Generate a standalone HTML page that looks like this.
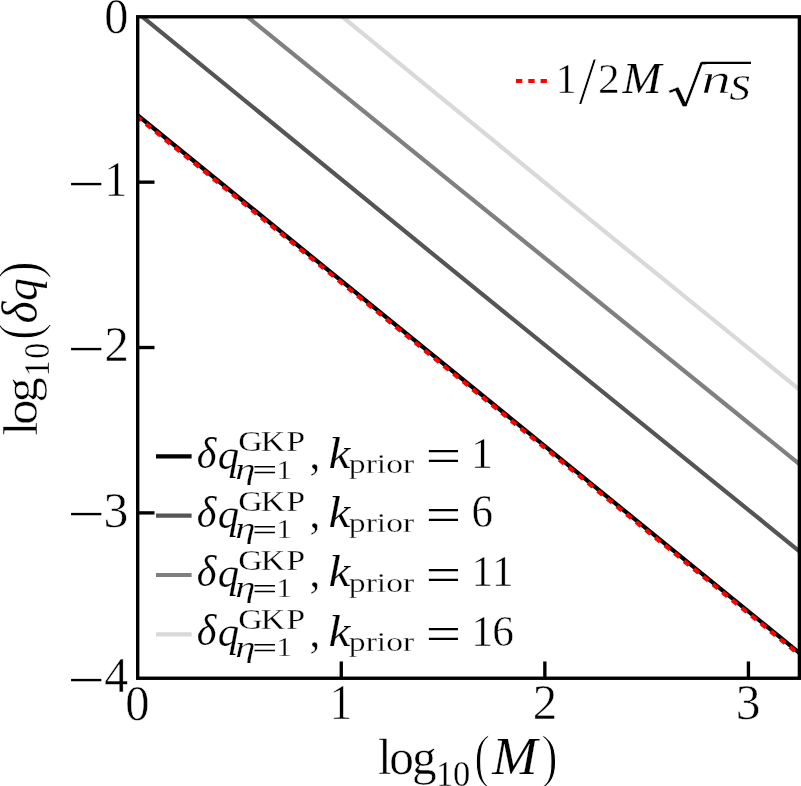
<!DOCTYPE html>
<html><head><meta charset="utf-8"><title>plot</title>
<style>
html,body{margin:0;padding:0;background:#fff;overflow:hidden}
svg{display:block}
text{font-family:"Liberation Serif",serif;font-size:100px}
text.m{font-family:"DejaVu Math TeX Gyre","Liberation Serif",serif}
</style></head><body>
<svg width="801" height="786" viewBox="0 0 801 786">
<rect x="0" y="0" width="801" height="786" fill="#fff"/>
<clipPath id="c"><rect x="137.7" y="16.78" width="661.7" height="661.47"/></clipPath>
<g clip-path="url(#c)" fill="none">
<polyline points="117.34,98.80 829.84,677.60" stroke="#000000" stroke-width="4.2" stroke-linejoin="round"/>
<polyline points="117.34,-3.56 137.70,12.98 463.41,278.97 797.27,549.52 829.84,575.98" stroke="#555555" stroke-width="4.2" stroke-linejoin="round"/>
<polyline points="198.77,-22.74 270.02,35.14 463.41,192.07 797.27,462.42 829.84,488.88" stroke="#808080" stroke-width="4.2" stroke-linejoin="round"/>
<polyline points="300.56,-17.12 341.27,15.95 585.55,215.92 797.27,387.87 829.84,414.33" stroke="#d9d9d9" stroke-width="4.2" stroke-linejoin="round"/>
<line x1="137.70" y1="117.16" x2="829.84" y2="679.42" stroke="#ff0000" stroke-width="4.2" stroke-dasharray="6.35 6.03" stroke-dashoffset="1.7"/>
</g>
<line x1="341.27" y1="678.25" x2="341.27" y2="661.45" stroke="#000" stroke-width="3.35"/>
<line x1="544.84" y1="678.25" x2="544.84" y2="661.45" stroke="#000" stroke-width="3.35"/>
<line x1="748.41" y1="678.25" x2="748.41" y2="661.45" stroke="#000" stroke-width="3.35"/>
<line x1="137.7" y1="182.15" x2="154.5" y2="182.15" stroke="#000" stroke-width="3.35"/>
<line x1="137.7" y1="347.52" x2="154.5" y2="347.52" stroke="#000" stroke-width="3.35"/>
<line x1="137.7" y1="512.89" x2="154.5" y2="512.89" stroke="#000" stroke-width="3.35"/>
<rect x="137.7" y="16.78" width="661.7" height="661.47" fill="none" stroke="#000" stroke-width="3.4"/>
<line x1="156.0" y1="456.40" x2="191.6" y2="456.40" stroke="#000000" stroke-width="4.2"/>
<line x1="156.0" y1="515.70" x2="191.6" y2="515.70" stroke="#555555" stroke-width="4.2"/>
<line x1="156.0" y1="575.00" x2="191.6" y2="575.00" stroke="#808080" stroke-width="4.2"/>
<line x1="156.0" y1="634.30" x2="191.6" y2="634.30" stroke="#d9d9d9" stroke-width="4.2"/>
<line x1="516" y1="81" x2="551.6" y2="81" stroke="#ff0000" stroke-width="4.2" stroke-dasharray="6.3 6.0"/>
<g>
<text transform="matrix(0.6510 0 0 0.4800 67.41 199.69)" fill="#000">−</text>
<text transform="matrix(0.4575 0 0 0.5053 104.52 195.85)" fill="#000" stroke="#fff" stroke-width="0.5" vector-effect="non-scaling-stroke">1</text>
<text transform="matrix(0.6510 0 0 0.4800 67.41 365.06)" fill="#000">−</text>
<text transform="matrix(0.4876 0 0 0.5023 104.55 361.22)" fill="#000" stroke="#fff" stroke-width="0.5" vector-effect="non-scaling-stroke">2</text>
<text transform="matrix(0.6510 0 0 0.4800 67.41 530.43)" fill="#000">−</text>
<text transform="matrix(0.4976 0 0 0.5089 103.61 527.43)" fill="#000" stroke="#fff" stroke-width="0.5" vector-effect="non-scaling-stroke">3</text>
<text transform="matrix(0.6510 0 0 0.4800 67.41 695.94)" fill="#000">−</text>
<text transform="matrix(0.4785 0 0 0.5068 104.34 692.10)" fill="#000" stroke="#fff" stroke-width="0.5" vector-effect="non-scaling-stroke">4</text>
<text transform="matrix(0.4835 0 0 0.5111 104.16 33.24)" fill="#000" stroke="#fff" stroke-width="0.5" vector-effect="non-scaling-stroke">0</text>
<text transform="matrix(0.4858 0 0 0.5126 125.20 720.04)" fill="#000" stroke="#fff" stroke-width="0.5" vector-effect="non-scaling-stroke">0</text>
<text transform="matrix(0.4476 0 0 0.5053 329.66 719.10)" fill="#000" stroke="#fff" stroke-width="0.5" vector-effect="non-scaling-stroke">1</text>
<text transform="matrix(0.4900 0 0 0.5023 532.74 719.00)" fill="#000" stroke="#fff" stroke-width="0.5" vector-effect="non-scaling-stroke">2</text>
<text transform="matrix(0.4952 0 0 0.5089 735.82 719.44)" fill="#000" stroke="#fff" stroke-width="0.5" vector-effect="non-scaling-stroke">3</text>
<text transform="matrix(0.4932 0 0 0.4967 0 773.92)" x="766.23 789.29 835.49" fill="#000" stroke="#fff" stroke-width="0.5" vector-effect="non-scaling-stroke">log</text>
<text transform="matrix(0.3449 0 0 0.3600 0 785.79)" x="1264.40 1313.59" fill="#000" stroke="#fff" stroke-width="0.3" vector-effect="non-scaling-stroke">10</text>
<text transform="matrix(0.4690 0 0 0.5815 474.13 775.53)" fill="#000" stroke="#fff" stroke-width="1.1" vector-effect="non-scaling-stroke">(</text>
<text transform="matrix(0.5421 0 0 0.5267 492.35 774.10)" font-style="italic" fill="#000" stroke="#fff" stroke-width="0.2" vector-effect="non-scaling-stroke">M</text>
<text transform="matrix(0.4961 0 0 0.5815 541.16 775.53)" fill="#000" stroke="#fff" stroke-width="1.1" vector-effect="non-scaling-stroke">)</text>
<text transform="matrix(0.4249 0 0 0.4311 555.55 92.60)" fill="#000" stroke="#fff" stroke-width="0.5" vector-effect="non-scaling-stroke">1</text>
<text transform="matrix(0.6439 0 0 0.6712 578.55 102.78)" fill="#000" stroke="#fff" stroke-width="0.9" vector-effect="non-scaling-stroke">/</text>
<text transform="matrix(0.4353 0 0 0.4298 597.88 92.60)" fill="#000" stroke="#fff" stroke-width="0.5" vector-effect="non-scaling-stroke">2</text>
<text transform="matrix(0.4680 0 0 0.4534 622.46 92.60)" font-style="italic" fill="#000" stroke="#fff" stroke-width="0.2" vector-effect="non-scaling-stroke">M</text>
<text transform="matrix(0.5900 0 0 0.5114 663.83 102.00)" class="m" fill="#000" stroke="#fff" stroke-width="0.5" vector-effect="non-scaling-stroke">√</text>
<line x1="701.5" y1="62.8" x2="751" y2="62.8" stroke="#000" stroke-width="2.2"/>
<text transform="matrix(0.5943 0 0 0.3970 701.32 92.80)" font-style="italic" fill="#000" stroke="#fff" stroke-width="0.8" vector-effect="non-scaling-stroke">n</text>
<text transform="matrix(0.4080 0 0 0.3616 729.40 99.79)" font-style="italic" fill="#000" stroke="#fff" stroke-width="0.3" vector-effect="non-scaling-stroke">S</text>
<text transform="matrix(0.4232 0 0 0.4499 196.87 467.55)" font-style="italic" fill="#000" stroke="#fff" stroke-width="0.2" vector-effect="non-scaling-stroke">δ</text>
<text transform="matrix(0.4279 0 0 0.4181 217.69 468.59)" font-style="italic" fill="#000" stroke="#fff" stroke-width="0.2" vector-effect="non-scaling-stroke">q</text>
<text transform="matrix(0.3390 0 0 0.3021 0 451.35)" x="702.92 768.90 844.28" fill="#000" stroke="#fff" stroke-width="0.3" vector-effect="non-scaling-stroke">GKP</text>
<text transform="matrix(0.4071 0 0 0.2968 235.32 478.83)" font-style="italic" fill="#000" stroke="#fff" stroke-width="0.3" vector-effect="non-scaling-stroke">η</text>
<text transform="matrix(0.4411 0 0 0.3000 252.24 480.41)" fill="#000">=</text>
<text transform="matrix(0.3088 0 0 0.2826 276.56 478.50)" fill="#000" stroke="#fff" stroke-width="0.3" vector-effect="non-scaling-stroke">1</text>
<text transform="matrix(0.4500 0 0 0.4708 309.29 468.60)" fill="#000" stroke="#fff" stroke-width="0.5" vector-effect="non-scaling-stroke">,</text>
<text transform="matrix(0.4919 0 0 0.4380 328.52 467.80)" font-style="italic" fill="#000" stroke="#fff" stroke-width="0.2" vector-effect="non-scaling-stroke">k</text>
<text transform="matrix(0.3365 0 0 0.2806 348.81 472.92)" fill="#000" stroke="#fff" stroke-width="0.3" vector-effect="non-scaling-stroke">prior</text>
<text transform="matrix(0.6263 0 0 0.4600 425.68 471.02)" fill="#000">=</text>
<text transform="matrix(0.4391 0 0 0.4439 470.93 467.80)" fill="#000" stroke="#fff" stroke-width="0.5" vector-effect="non-scaling-stroke">1</text>
<text transform="matrix(0.4232 0 0 0.4499 196.87 526.85)" font-style="italic" fill="#000" stroke="#fff" stroke-width="0.2" vector-effect="non-scaling-stroke">δ</text>
<text transform="matrix(0.4279 0 0 0.4181 217.69 527.89)" font-style="italic" fill="#000" stroke="#fff" stroke-width="0.2" vector-effect="non-scaling-stroke">q</text>
<text transform="matrix(0.3390 0 0 0.3021 0 510.65)" x="702.92 768.90 844.28" fill="#000" stroke="#fff" stroke-width="0.3" vector-effect="non-scaling-stroke">GKP</text>
<text transform="matrix(0.4071 0 0 0.2968 235.32 538.13)" font-style="italic" fill="#000" stroke="#fff" stroke-width="0.3" vector-effect="non-scaling-stroke">η</text>
<text transform="matrix(0.4411 0 0 0.3000 252.24 539.71)" fill="#000">=</text>
<text transform="matrix(0.3088 0 0 0.2826 276.56 537.80)" fill="#000" stroke="#fff" stroke-width="0.3" vector-effect="non-scaling-stroke">1</text>
<text transform="matrix(0.4500 0 0 0.4708 309.29 527.90)" fill="#000" stroke="#fff" stroke-width="0.5" vector-effect="non-scaling-stroke">,</text>
<text transform="matrix(0.4919 0 0 0.4380 328.52 527.10)" font-style="italic" fill="#000" stroke="#fff" stroke-width="0.2" vector-effect="non-scaling-stroke">k</text>
<text transform="matrix(0.3365 0 0 0.2806 348.81 532.22)" fill="#000" stroke="#fff" stroke-width="0.3" vector-effect="non-scaling-stroke">prior</text>
<text transform="matrix(0.6263 0 0 0.4600 425.68 530.32)" fill="#000">=</text>
<text transform="matrix(0.4312 0 0 0.4554 471.44 527.39)" fill="#000" stroke="#fff" stroke-width="0.5" vector-effect="non-scaling-stroke">6</text>
<text transform="matrix(0.4232 0 0 0.4499 196.87 586.15)" font-style="italic" fill="#000" stroke="#fff" stroke-width="0.2" vector-effect="non-scaling-stroke">δ</text>
<text transform="matrix(0.4279 0 0 0.4181 217.69 587.19)" font-style="italic" fill="#000" stroke="#fff" stroke-width="0.2" vector-effect="non-scaling-stroke">q</text>
<text transform="matrix(0.3390 0 0 0.3021 0 569.95)" x="702.92 768.90 844.28" fill="#000" stroke="#fff" stroke-width="0.3" vector-effect="non-scaling-stroke">GKP</text>
<text transform="matrix(0.4071 0 0 0.2968 235.32 597.43)" font-style="italic" fill="#000" stroke="#fff" stroke-width="0.3" vector-effect="non-scaling-stroke">η</text>
<text transform="matrix(0.4411 0 0 0.3000 252.24 599.01)" fill="#000">=</text>
<text transform="matrix(0.3088 0 0 0.2826 276.56 597.10)" fill="#000" stroke="#fff" stroke-width="0.3" vector-effect="non-scaling-stroke">1</text>
<text transform="matrix(0.4500 0 0 0.4708 309.29 587.20)" fill="#000" stroke="#fff" stroke-width="0.5" vector-effect="non-scaling-stroke">,</text>
<text transform="matrix(0.4919 0 0 0.4380 328.52 586.40)" font-style="italic" fill="#000" stroke="#fff" stroke-width="0.2" vector-effect="non-scaling-stroke">k</text>
<text transform="matrix(0.3365 0 0 0.2806 348.81 591.52)" fill="#000" stroke="#fff" stroke-width="0.3" vector-effect="non-scaling-stroke">prior</text>
<text transform="matrix(0.6263 0 0 0.4600 425.68 589.62)" fill="#000">=</text>
<text transform="matrix(0.4306 0 0 0.4439 0 586.40)" x="1094.89 1142.73" fill="#000" stroke="#fff" stroke-width="0.5" vector-effect="non-scaling-stroke">11</text>
<text transform="matrix(0.4232 0 0 0.4499 196.87 645.45)" font-style="italic" fill="#000" stroke="#fff" stroke-width="0.2" vector-effect="non-scaling-stroke">δ</text>
<text transform="matrix(0.4279 0 0 0.4181 217.69 646.49)" font-style="italic" fill="#000" stroke="#fff" stroke-width="0.2" vector-effect="non-scaling-stroke">q</text>
<text transform="matrix(0.3390 0 0 0.3021 0 629.25)" x="702.92 768.90 844.28" fill="#000" stroke="#fff" stroke-width="0.3" vector-effect="non-scaling-stroke">GKP</text>
<text transform="matrix(0.4071 0 0 0.2968 235.32 656.73)" font-style="italic" fill="#000" stroke="#fff" stroke-width="0.3" vector-effect="non-scaling-stroke">η</text>
<text transform="matrix(0.4411 0 0 0.3000 252.24 658.31)" fill="#000">=</text>
<text transform="matrix(0.3088 0 0 0.2826 276.56 656.40)" fill="#000" stroke="#fff" stroke-width="0.3" vector-effect="non-scaling-stroke">1</text>
<text transform="matrix(0.4500 0 0 0.4708 309.29 646.50)" fill="#000" stroke="#fff" stroke-width="0.5" vector-effect="non-scaling-stroke">,</text>
<text transform="matrix(0.4919 0 0 0.4380 328.52 645.70)" font-style="italic" fill="#000" stroke="#fff" stroke-width="0.2" vector-effect="non-scaling-stroke">k</text>
<text transform="matrix(0.3365 0 0 0.2806 348.81 650.82)" fill="#000" stroke="#fff" stroke-width="0.3" vector-effect="non-scaling-stroke">prior</text>
<text transform="matrix(0.6263 0 0 0.4600 425.68 648.92)" fill="#000">=</text>
<text transform="matrix(0.4348 0 0 0.4479 0 646.00)" x="1084.09 1131.94" fill="#000" stroke="#fff" stroke-width="0.5" vector-effect="non-scaling-stroke">16</text>
</g>
<g transform="rotate(-90)"><text transform="matrix(0.5059 0 0 0.4868 0 36.73)" x="-861.29 -839.78 -795.66" fill="#000" stroke="#fff" stroke-width="0.5" vector-effect="non-scaling-stroke">log</text>
<text transform="matrix(0.3192 0 0 0.3615 0 48.69)" x="-1178.38 -1124.08" fill="#000" stroke="#fff" stroke-width="0.3" vector-effect="non-scaling-stroke">10</text>
<text transform="matrix(0.5116 0 0 0.5815 -339.95 38.53)" fill="#000" stroke="#fff" stroke-width="1.1" vector-effect="non-scaling-stroke">(</text>
<text transform="matrix(0.4744 0 0 0.5063 -323.58 37.09)" font-style="italic" fill="#000" stroke="#fff" stroke-width="0.2" vector-effect="non-scaling-stroke">δ</text>
<text transform="matrix(0.4527 0 0 0.4722 -300.69 36.64)" font-style="italic" fill="#000" stroke="#fff" stroke-width="0.2" vector-effect="non-scaling-stroke">q</text>
<text transform="matrix(0.5388 0 0 0.5815 -279.07 38.53)" fill="#000" stroke="#fff" stroke-width="1.1" vector-effect="non-scaling-stroke">)</text></g>
</svg>
</body></html>
